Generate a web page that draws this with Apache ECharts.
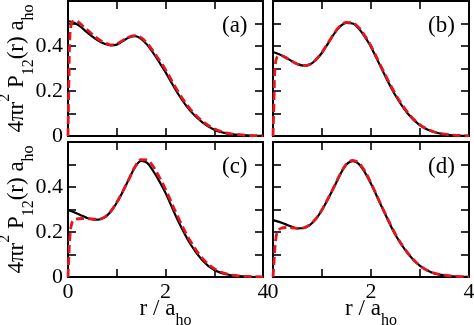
<!DOCTYPE html>
<html>
<head>
<meta charset="utf-8">
<script src="https://cdn.jsdelivr.net/npm/echarts@6/dist/echarts.min.js"></script>
<style>
html,body{margin:0;padding:0;background:#fff;}
#chart{width:474px;height:325px;}
</style>
</head>
<body>
<div id="chart"></div>
<script>
// r grids (in units of a_ho)
const rBlack = [0, 0.125, 0.25, 0.375, 0.5, 0.625, 0.75, 0.875, 1.0, 1.125, 1.25, 1.375, 1.5, 1.625, 1.75, 1.875, 2.0, 2.25, 2.5, 2.75, 3.0, 3.25, 3.5, 3.75, 4.0];
const rRed = [0, 0.02, 0.04, 0.08, 0.15, 0.3, 0.5, 0.625, 0.75, 0.875, 1.0, 1.125, 1.25, 1.375, 1.5, 1.625, 1.75, 1.875, 2.0, 2.25, 2.5, 2.75, 3.0, 3.25, 3.5, 3.75, 4.0];

// solid black curves
const blackA = [0.511, 0.503, 0.487, 0.464, 0.442, 0.423, 0.41, 0.403, 0.406, 0.422, 0.438, 0.444, 0.432, 0.405, 0.368, 0.327, 0.284, 0.19, 0.114, 0.062, 0.028, 0.012, 0.005, 0.002, 0.001];
const blackB = [0.373, 0.363, 0.35, 0.334, 0.32, 0.313, 0.318, 0.338, 0.37, 0.412, 0.455, 0.488, 0.503, 0.5, 0.478, 0.44, 0.396, 0.284, 0.18, 0.1, 0.047, 0.02, 0.007, 0.002, 0.001];
const blackC = [0.298, 0.288, 0.276, 0.264, 0.256, 0.255, 0.265, 0.29, 0.33, 0.38, 0.435, 0.488, 0.516, 0.507, 0.47, 0.425, 0.374, 0.253, 0.15, 0.076, 0.031, 0.012, 0.004, 0.001, 0.0];
const blackD = [0.253, 0.245, 0.235, 0.224, 0.216, 0.218, 0.231, 0.258, 0.298, 0.348, 0.401, 0.457, 0.5, 0.515, 0.503, 0.465, 0.414, 0.298, 0.187, 0.105, 0.049, 0.019, 0.007, 0.002, 0.001];

// dashed red curves
const redA = [0, 0.25, 0.45, 0.505, 0.512, 0.49, 0.452, 0.43, 0.415, 0.405, 0.41, 0.425, 0.44, 0.446, 0.437, 0.412, 0.376, 0.337, 0.295, 0.2, 0.122, 0.067, 0.032, 0.014, 0.006, 0.002, 0.001];
const redB = [0, 0.15, 0.3, 0.35, 0.358, 0.343, 0.319, 0.313, 0.318, 0.339, 0.372, 0.414, 0.457, 0.49, 0.505, 0.503, 0.482, 0.445, 0.4, 0.29, 0.186, 0.104, 0.05, 0.021, 0.008, 0.003, 0.001];
const redC = [0, 0.1, 0.18, 0.24, 0.256, 0.26, 0.258, 0.257, 0.266, 0.292, 0.332, 0.382, 0.435, 0.49, 0.522, 0.52, 0.49, 0.443, 0.39, 0.27, 0.163, 0.085, 0.037, 0.014, 0.005, 0.002, 0.001];
const redD = [0, 0.06, 0.13, 0.195, 0.215, 0.22, 0.216, 0.218, 0.232, 0.259, 0.299, 0.35, 0.403, 0.459, 0.503, 0.518, 0.507, 0.47, 0.418, 0.3, 0.19, 0.107, 0.05, 0.02, 0.008, 0.003, 0.001];

const panelLabels = ['(a)', '(b)', '(c)', '(d)'];
const xTickLabels = {0: '0', 2: '2', 4: '4'};
const yTickLabels = {0: '0', 2: '0.2', 4: '0.4'};
const yName = '4πr{sup|2} P{sub|12}(r) a{sub|ho}';
const xName = 'r / a{sub|ho}';

const FONT = 'Liberation Serif';
const RED = '#e6141e';

const grids = [
  {left: 68, top: 1, width: 195, height: 135},
  {left: 273, top: 1, width: 196, height: 135},
  {left: 68, top: 142, width: 195, height: 135},
  {left: 273, top: 142, width: 196, height: 135}
];

const richStyles = {
  sup: {fontFamily: FONT, fontSize: 16, lineHeight: 28, verticalAlign: 'top', color: '#000'},
  sub: {fontFamily: FONT, fontSize: 16, lineHeight: 16, verticalAlign: 'bottom', color: '#000'}
};

const lineStyleAxis = {color: '#000', width: 2};
const tickStyle = {show: true, inside: true, length: 8, lineStyle: {color: '#000', width: 1.6}};

const xAxes = [], yAxes = [];
grids.forEach((g, i) => {
  const bottomRow = i >= 2;
  const leftCol = i % 2 === 0;
  xAxes.push({
    type: 'value', gridIndex: i, position: 'bottom', min: 0, max: 4, interval: 1,
    axisLine: {show: true, onZero: false, lineStyle: lineStyleAxis},
    axisTick: tickStyle,
    splitLine: {show: false},
    axisLabel: {
      show: bottomRow, margin: 4, color: '#000', fontFamily: FONT, fontSize: 22,
      showMinLabel: true, showMaxLabel: true, hideOverlap: false,
      formatter: v => xTickLabels[Math.round(v)] || ''
    },
    name: bottomRow ? xName : '', nameLocation: 'middle', nameGap: 12, nameMoveOverlap: false,
    nameTextStyle: {fontFamily: FONT, fontSize: 23, color: '#000', lineHeight: 40, rich: richStyles}
  });
  xAxes.push({
    type: 'value', gridIndex: i, position: 'top', min: 0, max: 4, interval: 1,
    axisLine: {show: true, onZero: false, lineStyle: lineStyleAxis},
    axisTick: tickStyle, axisLabel: {show: false}, splitLine: {show: false}
  });
  yAxes.push({
    type: 'value', gridIndex: i, position: 'left', min: 0, max: 0.6, interval: 0.1,
    axisLine: {show: true, onZero: false, lineStyle: lineStyleAxis},
    axisTick: tickStyle,
    splitLine: {show: false},
    axisLabel: {
      show: leftCol, margin: 5, color: '#000', fontFamily: FONT, fontSize: 22,
      showMinLabel: true, showMaxLabel: true,
      formatter: v => yTickLabels[Math.round(v * 10)] || ''
    },
    name: leftCol ? yName : '', nameLocation: 'middle', nameRotate: 90, nameGap: 31, nameMoveOverlap: false,
    nameTextStyle: {fontFamily: FONT, fontSize: 23, color: '#000', lineHeight: 40, rich: richStyles}
  });
  yAxes.push({
    type: 'value', gridIndex: i, position: 'right', min: 0, max: 0.6, interval: 0.1,
    axisLine: {show: true, onZero: false, lineStyle: lineStyleAxis},
    axisTick: tickStyle, axisLabel: {show: false}, splitLine: {show: false}
  });
});

const blacks = [blackA, blackB, blackC, blackD];
const reds = [redA, redB, redC, redD];
const series = [];
grids.forEach((g, i) => {
  series.push({
    type: 'line', xAxisIndex: 2 * i, yAxisIndex: 2 * i, smooth: 0.35, symbol: 'none',
    data: rBlack.map((r, k) => [r, blacks[i][k]]),
    lineStyle: {color: '#000', width: 2.2}, z: 2
  });
  series.push({
    type: 'line', xAxisIndex: 2 * i, yAxisIndex: 2 * i, smooth: 0.35, symbol: 'none',
    data: rRed.map((r, k) => [r, reds[i][k]]),
    lineStyle: {color: RED, width: 2.8, type: [8, 4]}, z: 3
  });
});

const graphics = grids.map((g, i) => ({
  type: 'text',
  left: g.left + g.width - 15 - 26,
  top: g.top + 13,
  style: {text: panelLabels[i], font: '23px "' + FONT + '"', fill: '#000'}
}));

const chart = echarts.init(document.getElementById('chart'), null, {renderer: 'canvas'});
chart.setOption({
  animation: false,
  backgroundColor: '#fff',
  grid: grids.map(g => Object.assign({containLabel: false, outerBoundsMode: 'none'}, g)),
  xAxis: xAxes,
  yAxis: yAxes,
  series: series,
  graphic: graphics
});
</script>
</body>
</html>
